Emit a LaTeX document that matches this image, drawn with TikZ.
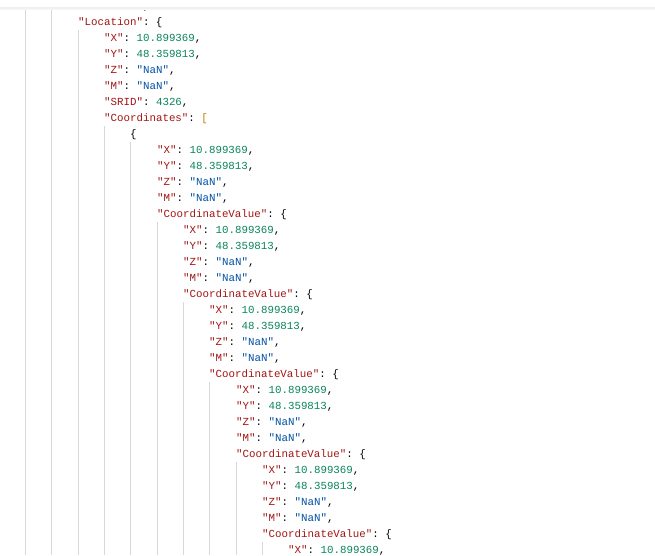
\documentclass[tikz,border=0pt]{standalone}
\usepackage{fontspec}
\setmonofont{Liberation Mono}
\definecolor{keyc}{HTML}{A31515}
\definecolor{numc}{HTML}{098658}
\definecolor{strc}{HTML}{0451A5}
\definecolor{brk}{HTML}{C08000}
\definecolor{guide}{HTML}{D8D8D8}
\newcommand\Kq[1]{\textcolor{keyc}{"#1"}: }
\newcommand\Nv[1]{\textcolor{numc}{#1},}
\newcommand\Sv[1]{\textcolor{strc}{"#1"},}
\begin{document}
\begin{tikzpicture}[x=1pt,y=-1pt,
  txt/.style={anchor=base west,inner sep=0pt,font=\ttfamily\fontsize{10.8}{12}\selectfont},
  gl/.style={guide,line width=0.8pt}]
\useasboundingbox (0,0) rectangle (655,555);
\fill[white] (0,0) rectangle (655,555);
\def\ry#1{\fpeval{25+16*(#1)}}
% guides
\foreach \x/\r in {25/-3,51/-3,78/0,104/6,130/7,157/12,183/17,209/22,236/27,262/32}{
  \draw[gl] (\x,{21+16*\r+9}) -- (\x,555);
}
\node[txt] (rm) at (78,{\ry{-1}}) {\Kq{Srid}\Nv{24}};
\node[txt] (r0) at (78,{\ry{0}}) {\Kq{Location}\{};
\node[txt] (r1) at (104,{\ry{1}}) {\Kq{X}\Nv{10.899369}};
\node[txt] (r2) at (104,{\ry{2}}) {\Kq{Y}\Nv{48.359813}};
\node[txt] (r3) at (104,{\ry{3}}) {\Kq{Z}\Sv{NaN}};
\node[txt] (r4) at (104,{\ry{4}}) {\Kq{M}\Sv{NaN}};
\node[txt] (r5) at (104,{\ry{5}}) {\Kq{SRID}\Nv{4326}};
\node[txt] (r6) at (104,{\ry{6}}) {\Kq{Coordinates}\textcolor{brk}{[}};
\node[txt] (r7) at (130,{\ry{7}}) {\{};
\foreach \c/\b/\n in {157/8/a,183/13/b,209/18/c,236/23/d,262/28/e}{
  \node[txt] (x\n) at (\c,{\ry{\b}}) {\Kq{X}\Nv{10.899369}};
  \node[txt] (y\n) at (\c,{\ry{\b+1}}) {\Kq{Y}\Nv{48.359813}};
  \node[txt] (z\n) at (\c,{\ry{\b+2}}) {\Kq{Z}\Sv{NaN}};
  \node[txt] (m\n) at (\c,{\ry{\b+3}}) {\Kq{M}\Sv{NaN}};
  \node[txt] (cv\n) at (\c,{\ry{\b+4}}) {\Kq{CoordinateValue}\{};
}
\node[txt] (xf) at (288,{\ry{33}}) {\Kq{X}\Nv{10.899369}};
% top sticky band
\fill[white] (0,0) rectangle (655,7);
\fill[black!6] (0,7) rectangle (655,8.5);
\fill[black!3] (0,8.5) rectangle (655,10);
\end{tikzpicture}
\end{document}
